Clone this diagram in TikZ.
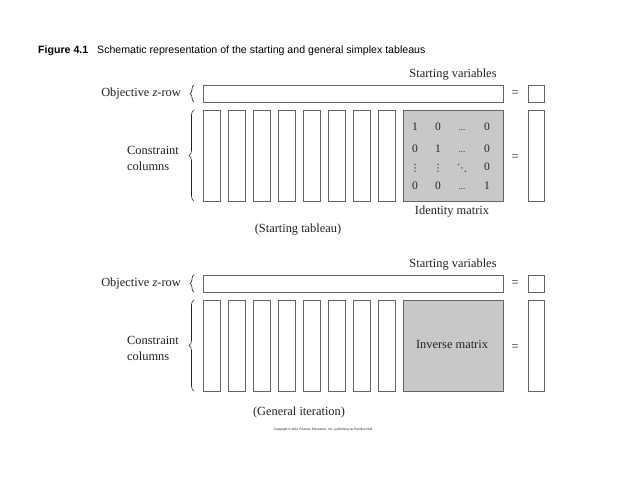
\documentclass[tikz,border=0pt]{standalone}
\usepackage{fontspec}
\setmainfont{Liberation Serif}
\newfontfamily\arialf{Liberation Sans}
\newfontfamily\dejav{DejaVu Sans}
\usetikzlibrary{decorations.pathreplacing}
\definecolor{boxline}{RGB}{100,100,100}
\definecolor{matfill}{RGB}{200,200,200}
\definecolor{txt}{RGB}{35,35,35}
\begin{document}
\begin{tikzpicture}[x=1pt,y=-1pt,
  box/.style={draw=boxline, line width=0.9pt, inner sep=0pt, anchor=north west},
  colbox/.style={box, minimum width=16.5pt, minimum height=91pt},
  lbl/.style={font=\fontsize{12.4}{14}\selectfont, inner sep=0pt, text=txt},
  ent/.style={font=\fontsize{11.5}{13}\selectfont, inner sep=0pt, text=txt},
  dts/.style={font=\fontsize{9}{10}\selectfont, inner sep=0pt, text=txt},
  vds/.style={font=\dejav\fontsize{10}{11}\selectfont, inner sep=0pt, text=txt},
  brc/.style={decorate, decoration={brace, amplitude=4pt}, line width=0.6pt, draw=txt}]
\useasboundingbox[fill=white] (0,0) rectangle (638,478);
% caption
\node[anchor=west, inner sep=0pt, font=\arialf\bfseries\fontsize{10.6}{12}\selectfont] (figno) at (38,51) {Figure 4.1};
\node[anchor=west, inner sep=0pt, font=\arialf\fontsize{10.6}{12}\selectfont] (captxt) at (97,51) {Schematic representation of the starting and general simplex tableaus};
\foreach \s/\yo in {a/0,b/190}{
  \node[lbl] (\s sv) at (453,75+\yo) {Starting variables};
  \node[box, minimum width=300pt, minimum height=17pt] (\s zrow) at (203,85+\yo) {};
  \node[lbl] (\s eqz) at (515,94+\yo) {=};
  \node[box, minimum width=16pt, minimum height=17pt] (\s zrhs) at (528,85+\yo) {};
  \foreach \k in {0,...,7}{
    \node[colbox] (\s c\k) at (203+25*\k,110+\yo) {};
  }
  \node[box, fill=matfill, minimum width=100pt, minimum height=91pt] (\s mat) at (403,110+\yo) {};
  \node[colbox, minimum width=16pt] (\s rhs) at (528,110+\yo) {};
  \node[lbl] (\s eqc) at (515,158+\yo) {=};
  \node[lbl, anchor=east] (\s obj) at (181,94+\yo) {Objective \textit{z}-row};
  \coordinate (\s zb1) at (194,102+\yo);
  \coordinate (\s zb2) at (194,85+\yo);
  \draw[brc, decoration={amplitude=4pt}] (\s zb1) -- (\s zb2);
  \coordinate (\s cb1) at (194,201+\yo);
  \coordinate (\s cb2) at (194,110+\yo);
  \draw[brc, decoration={amplitude=5pt}] (\s cb1) -- (\s cb2);
  \node[lbl, anchor=west, align=left, font=\fontsize{12.4}{16}\selectfont] (\s con) at (127,158+\yo) {Constraint\\columns};
}
% identity matrix entries
\node[ent] (m11) at (415,127) {1};
\node[ent] (m12) at (438,127) {0};
\node[dts] (m13) at (462,130) {...};
\node[ent] (m14) at (487,127) {0};
\node[ent] (m21) at (415,149) {0};
\node[ent] (m22) at (438,149) {1};
\node[dts] (m23) at (462,152) {...};
\node[ent] (m24) at (487,149) {0};
\node[vds] (m31) at (415,168) {⋮};
\node[vds] (m32) at (438,168) {⋮};
\node[vds] (m33) at (462,168) {⋱};
\node[ent] (m34) at (487,167) {0};
\node[ent] (m41) at (415,186) {0};
\node[ent] (m42) at (438,186) {0};
\node[dts] (m43) at (462,189) {...};
\node[ent] (m44) at (487,186) {1};
\node[lbl] (idm) at (452,212) {Identity matrix};
\node[lbl] (stt) at (298,230) {(Starting tableau)};
\node[lbl] (invm) at (452,344) {Inverse matrix};
\node[lbl] (gen) at (299,413) {(General iteration)};
\node[inner sep=0pt, font=\arialf\fontsize{3.2}{4}\selectfont, text=txt] (copy) at (323,430) {Copyright \textcopyright\ 2011 Pearson Education, Inc. publishing as Prentice Hall};
\end{tikzpicture}
\end{document}
